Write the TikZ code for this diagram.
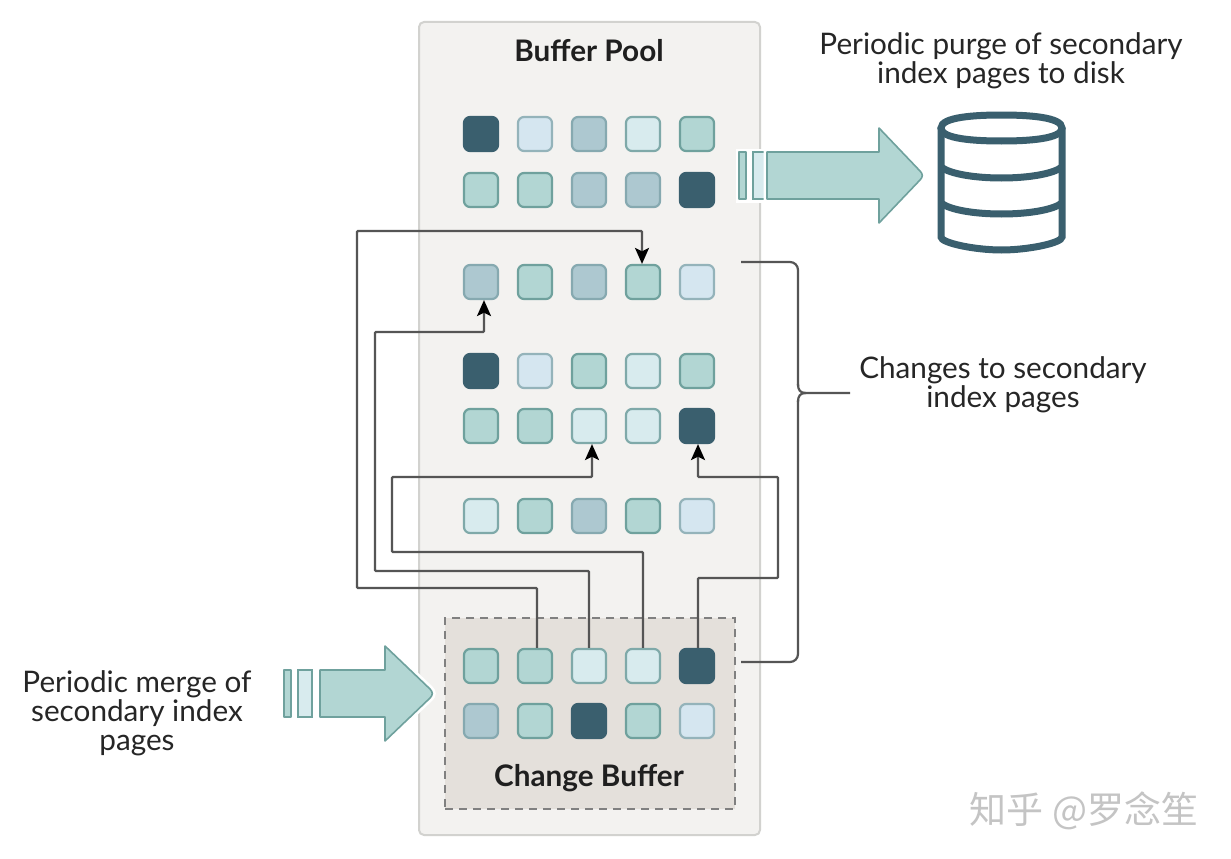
\documentclass[tikz,border=0pt]{standalone}
\usepackage{fontspec}
\setmainfont{Lato}
\newfontfamily\cjk{Noto Sans CJK SC}
\usetikzlibrary{arrows.meta}
\definecolor{cdark}{HTML}{3A5F6E}
\definecolor{cblue}{HTML}{D5E6F0}
\definecolor{cblueb}{HTML}{94B3BA}
\definecolor{cgrey}{HTML}{ADC8D0}
\definecolor{cgreyb}{HTML}{86A9B0}
\definecolor{ccyan}{HTML}{D8EBEE}
\definecolor{ccyanb}{HTML}{7FA9A9}
\definecolor{cteal}{HTML}{B2D6D3}
\definecolor{ctealb}{HTML}{6FA19D}
\definecolor{cpool}{HTML}{F3F2F0}
\definecolor{cpoolb}{HTML}{D2D2CF}
\definecolor{ccb}{HTML}{E4E0DB}
\definecolor{cline}{HTML}{555555}
\definecolor{cmark}{HTML}{C4C4C4}
\tikzset{
  page/.style={minimum size=34pt,inner sep=0pt,rounded corners=6pt,line width=2.2pt},
  D/.style={page,fill=cdark,draw=cdark},
  B/.style={page,fill=cblue,draw=cblueb},
  G/.style={page,fill=cgrey,draw=cgreyb},
  C/.style={page,fill=ccyan,draw=ccyanb},
  T/.style={page,fill=cteal,draw=ctealb},
  conn/.style={draw=cline,line width=2.4pt,rounded corners=1pt},
  arr/.style={conn,-{Stealth[length=16pt,width=14pt,inset=3.5pt,black]}},
  brace/.style={draw=cline,line width=2.2pt,rounded corners=8pt},
  flow/.style={fill=cteal,draw=ctealb,line width=1.6pt,line join=round,
    preaction={draw=white,line width=7pt}},
  flowl/.style={fill=ccyan,draw=ctealb,line width=1.6pt,
    preaction={draw=white,line width=7pt}},
  label/.style={inner sep=0pt,align=center,text=black!85,font=\fontsize{29.7}{29}\selectfont},
  title/.style={inner sep=0pt,align=center,text=black!88,font=\fontsize{29.7}{29}\selectfont\bfseries},
  db/.style={draw=cdark,line width=7pt,fill=none}
}
\begin{document}
\begin{tikzpicture}[x=1pt,y=-1pt]
\useasboundingbox (0,0) rectangle (1231,859);
\fill[white] (0,0) rectangle (1231,859);
% containers
\node[draw=cpoolb,fill=cpool,line width=2pt,rounded corners=5pt,minimum width=341pt,minimum height=813pt,inner sep=0pt] (pool) at (589.5,428.5) {};
\node[draw=cline!75,dash pattern=on 8pt off 6pt,fill=ccb,line width=2.2pt,minimum width=290pt,minimum height=191pt,inner sep=0pt] (cb) at (590,713.5) {};
% pages
\def\xa{481}\def\xb{535}\def\xc{589}\def\xd{643}\def\xe{697}
\foreach \r/\y/\sa/\sb/\sc/\sd/\se in {
 1/134/D/B/G/C/T, 2/190/T/T/G/G/D, 3/282/G/T/G/T/B, 4/371/D/B/T/C/T,
 5/426/T/T/C/C/D, 6/516/C/T/G/T/B, 7/666/T/T/C/C/D, 8/721/G/T/D/T/B}{
  \node[\sa] (s\r1) at (\xa,\y) {};
  \node[\sb] (s\r2) at (\xb,\y) {};
  \node[\sc] (s\r3) at (\xc,\y) {};
  \node[\sd] (s\r4) at (\xd,\y) {};
  \node[\se] (s\r5) at (\xe,\y) {};
}
% connectors
\coordinate (a1) at (357,588); \coordinate (a2) at (642,231);
\draw[arr] ([xshift=2pt]s72.north) -- (537,588) -- (a1) -- (357,231) -- (a2) -- ([xshift=-1pt]s34.north);
\coordinate (b1) at (375,571); \coordinate (b2) at (484,332);
\draw[arr] (s73.north) -- (589,571) -- (b1) -- (375,332) -- (b2) -- ([xshift=3pt]s31.south);
\coordinate (c1) at (392,552); \coordinate (c2) at (592,477);
\draw[arr] (s74.north) -- (643,552) -- (c1) -- (392,477) -- (c2) -- ([xshift=3pt]s53.south);
\coordinate (d1) at (778,578); \coordinate (d2) at (698,477);
\draw[arr] ([xshift=1pt]s75.north) -- (698,578) -- (d1) -- (778,477) -- (d2) -- ([xshift=1pt]s55.south);
% brace
\coordinate (ba) at (741,262); \coordinate (bb) at (741,662); \coordinate (bc) at (850,393);
\draw[brace] (ba) -- (798,262) -- (798,386);
\draw[brace] (bb) -- (798,662) -- (798,400);
\draw[draw=cline,line width=2.2pt] (798,384) .. controls (798,390) and (800,393) .. (806,393) -- (bc);
\draw[draw=cline,line width=2.2pt] (798,402) .. controls (798,396) and (800,393) .. (806,393);
% flow arrows
\path[flow] (739,152) rectangle (746,199);
\path[flowl] (753,152) rectangle (767,199);
\path[flow] (767,152) -- (879,152) -- (879,128) -- (920,171) .. controls (923,174) and (923,177) .. (920,180) -- (879,223) -- (879,199) -- (767,199) -- cycle;
\path[flow] (284,670) rectangle (291,717);
\path[flowl] (298,670) rectangle (312,717);
\path[flow] (320,670) -- (385,670) -- (385,646) -- (430,689) .. controls (433,692) and (433,695) .. (430,698) -- (385,741) -- (385,717) -- (320,717) -- cycle;
% database
\draw[db] (941,128) .. controls (941,117) and (975,115) .. (1001.5,115) .. controls (1028,115) and (1062,117) .. (1062,128) .. controls (1062,139) and (1028,141) .. (1001.5,141) .. controls (975,141) and (941,139) .. (941,128) -- cycle;
\draw[db] (941,128) -- (941,237) .. controls (941,243) and (975,250) .. (1001.5,250) .. controls (1028,250) and (1062,243) .. (1062,237) -- (1062,128);
\draw[db] (941,167) .. controls (950,174) and (975,178) .. (1001.5,178) .. controls (1028,178) and (1053,174) .. (1062,167);
\draw[db] (941,203) .. controls (950,210) and (975,214) .. (1001.5,214) .. controls (1028,214) and (1053,210) .. (1062,203);
% text
\node[title] (t1) at (589,51) {Buffer Pool};
\node[title] (t2) at (589,778) {Change Buffer};
\node[label] (t3) at (1001,61) {Periodic purge of secondary\\index pages to disk};
\node[label] (t4) at (1003,385) {Changes to secondary\\index pages};
\node[label] (t5) at (137,713) {Periodic merge of\\secondary index\\pages};
\node[inner sep=0pt,text=cmark,font=\cjk\fontsize{37}{39}\selectfont] (wm) at (1084,811) {知乎 @罗念笙};
\end{tikzpicture}
\end{document}
